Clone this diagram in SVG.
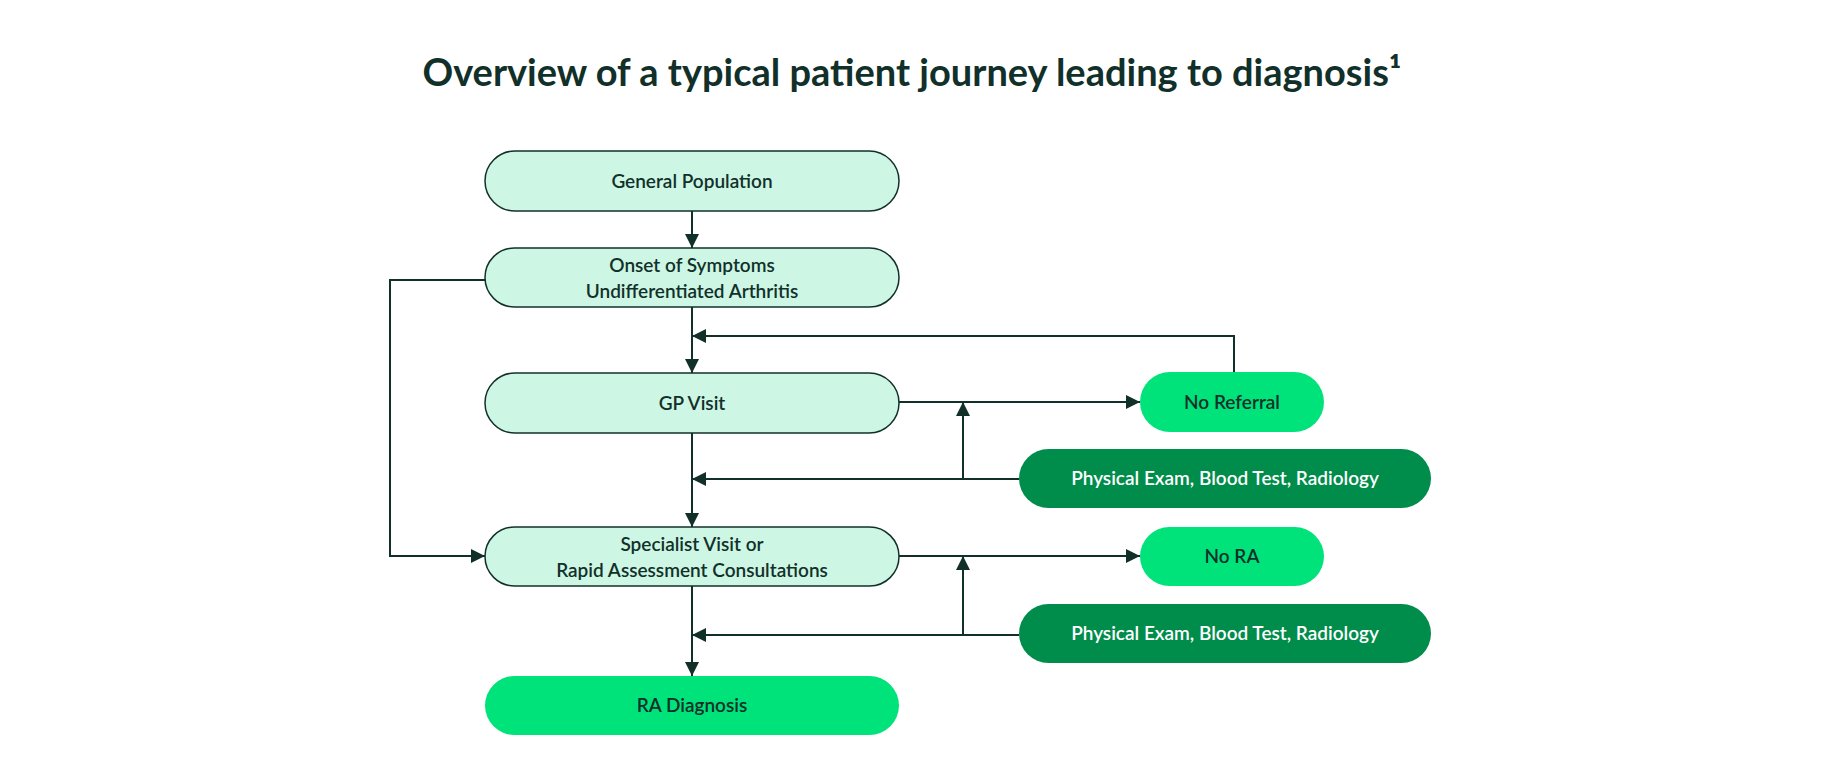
<svg xmlns="http://www.w3.org/2000/svg" width="1824" height="782" viewBox="0 0 1824 782">
<style>
.l{fill:#cdf7e4;stroke:#12302a;stroke-width:1.5}
.b{fill:#00e27a}
.d{fill:#008c4b}
text{font-family:"Lato","Noto Sans",sans-serif;font-weight:600;font-size:19px;text-anchor:middle;fill:#12302a}
.w{fill:#fff}
.c{fill:none;stroke:#12302a;stroke-width:2}
</style>
<defs><marker id="a" viewBox="0 0 10 10" refX="10" refY="5" markerWidth="7" markerHeight="7" orient="auto"><path d="M0,0L10,5L0,10z" fill="#12302a"/></marker></defs>
<rect width="1824" height="782" fill="#fff"/>
<text x="912" y="86" style="font-size:38px;font-weight:700">Overview of a typical patient journey leading to diagnosis¹</text>
<g id="connectors">
<path class="c" d="M692,211V248" marker-end="url(#a)"/>
<path class="c" d="M692,307V373" marker-end="url(#a)"/>
<path class="c" d="M1234,372V336H692" marker-end="url(#a)"/>
<path class="c" d="M692,433V527" marker-end="url(#a)"/>
<path class="c" d="M485,280H390V556H485" marker-end="url(#a)"/>
<path class="c" d="M899,402H1140" marker-end="url(#a)"/>
<path class="c" d="M1019,479H692" marker-end="url(#a)"/>
<path class="c" d="M963,479V402" marker-end="url(#a)"/>
<path class="c" d="M692,586V676" marker-end="url(#a)"/>
<path class="c" d="M899,556H1140" marker-end="url(#a)"/>
<path class="c" d="M1019,635H692" marker-end="url(#a)"/>
<path class="c" d="M963,635V556" marker-end="url(#a)"/>
</g>
<g id="general"><rect class="l" x="485" y="151" width="414" height="60" rx="30"/><text x="692" y="188">General Population</text></g>
<g id="onset"><rect class="l" x="485" y="248" width="414" height="59" rx="29.5"/><text x="692" y="272">Onset of Symptoms</text><text x="692" y="298">Undifferentiated Arthritis</text></g>
<g id="gp"><rect class="l" x="485" y="373" width="414" height="60" rx="30"/><text x="692" y="410">GP Visit</text></g>
<g id="specialist"><rect class="l" x="485" y="527" width="414" height="59" rx="29.5"/><text x="692" y="551">Specialist Visit or</text><text x="692" y="577">Rapid Assessment Consultations</text></g>
<g id="ra"><rect class="b" x="485" y="676" width="414" height="59" rx="29.5"/><text x="692" y="712">RA Diagnosis</text></g>
<g id="noref"><rect class="b" x="1140" y="372" width="184" height="60" rx="30"/><text x="1232" y="409">No Referral</text></g>
<g id="exam1"><rect class="d" x="1019" y="449" width="412" height="59" rx="29.5"/><text class="w" x="1225" y="485">Physical Exam, Blood Test, Radiology</text></g>
<g id="nora"><rect class="b" x="1140" y="527" width="184" height="59" rx="29.5"/><text x="1232" y="563">No RA</text></g>
<g id="exam2"><rect class="d" x="1019" y="604" width="412" height="59" rx="29.5"/><text class="w" x="1225" y="640">Physical Exam, Blood Test, Radiology</text></g>
</svg>
